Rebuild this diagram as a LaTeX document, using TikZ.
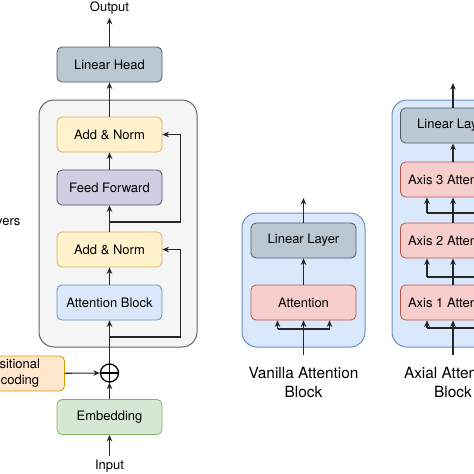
\documentclass[tikz,border=0pt]{standalone}
\usepackage{fontspec}
\setmainfont{TeX Gyre Heros}
\usetikzlibrary{arrows.meta}

\definecolor{headfill}{HTML}{BAC8D3}
\definecolor{headline}{HTML}{4A5B6C}
\definecolor{normfill}{HTML}{FFF2CC}
\definecolor{normline}{HTML}{D6B656}
\definecolor{fffill}{HTML}{D0CEE2}
\definecolor{ffline}{HTML}{56517E}
\definecolor{attfill}{HTML}{DAE8FC}
\definecolor{attline}{HTML}{6C8EBF}
\definecolor{embfill}{HTML}{D5E8D4}
\definecolor{embline}{HTML}{82B366}
\definecolor{posfill}{HTML}{FFE6CC}
\definecolor{posline}{HTML}{D79B00}
\definecolor{axfill}{HTML}{F8CECC}
\definecolor{axline}{HTML}{B85450}

\begin{document}
\begin{tikzpicture}[
    x=1pt,y=-1pt,
    >={Stealth[length=6.5pt,width=5.5pt]},
    every node/.style={font=\fontsize{13}{15}\selectfont},
    blk/.style={draw,rounded corners=5pt,minimum width=105pt,minimum height=35pt,
      inner sep=0pt,line width=0.8pt},
    frame/.style={draw,rounded corners=15pt,line width=1pt},
    arr/.style={->,line width=1.1pt,black!85},
    ln/.style={line width=1.1pt,black!85},
    lbl/.style={font=\fontsize{15.4}{19}\selectfont,align=center},
  ]
  \useasboundingbox (0,0) rectangle (474,474);
  \clip (0,0) rectangle (474,474);

  % -- containers --
  \node[frame,draw=black!60,fill=black!4,minimum width=158pt,minimum height=247pt]
       (enc) at (118,223.5) {};
  \node[frame,draw=attline,fill=attfill,minimum width=123pt,minimum height=134pt]
       (van) at (303.5,280) {};
  \node[frame,draw=attline,fill=attfill,minimum width=122pt,minimum height=247pt]
       (axl) at (453,223.5) {};

  % -- left column --
  \node (out) at (109.5,8) {Output};
  \node[blk,fill=headfill,draw=headline] (head) at (109.5,64.5) {Linear Head};
  \node[blk,fill=normfill,draw=normline] (addtop) at (109.5,134.5) {Add \& Norm};
  \node[blk,fill=fffill,draw=ffline] (ff) at (109.5,187.5) {Feed Forward};
  \node[blk,fill=normfill,draw=normline] (addbot) at (109.5,249.5) {Add \& Norm};
  \node[blk,fill=attfill,draw=attline] (attb) at (109.5,302.5) {Attention Block};
  \node[circle,draw,line width=1.3pt,minimum size=18pt,inner sep=0pt] (plus) at (109.5,373) {};
  \node[blk,fill=posfill,draw=posline,align=center,font=\fontsize{13}{16}\selectfont]
       (pos) at (12,373.5) {Positional\\Encoding};
  \node[blk,fill=embfill,draw=embline] (emb) at (109.5,417) {Embedding};
  \node (inp) at (109.5,466) {Input};
  \node[anchor=east] (nl) at (24,222) {Layers};

  \draw[line width=1.3pt] (plus.north) -- (plus.south) (plus.west) -- (plus.east);
  \draw[arr] (inp) -- (emb);
  \draw[arr] (emb) -- (plus);
  \draw[arr] (pos) -- (plus);
  \draw[arr] (plus) -- (attb);
  \draw[arr] (attb) -- (addbot);
  \draw[arr] (addbot) -- (ff);
  \draw[arr] (ff) -- (addtop);
  \draw[arr] (addtop) -- (head);
  \draw[arr] (head) -- (out);

  % -- residual paths --
  \coordinate (rbot) at (109.5,337);
  \coordinate (rtop) at (109.5,222);
  \draw[arr] (rbot) -| ([xshift=18pt]addbot.east) -- (addbot.east);
  \draw[arr] (rtop) -| ([xshift=18pt]addtop.east) -- (addtop.east);

  % -- vanilla attention block --
  \node[blk,fill=headfill,draw=headline] (vlin) at (303.5,240.5) {Linear Layer};
  \node[blk,fill=axfill,draw=axline] (vatt) at (303.5,302.5) {Attention};
  \coordinate (vin) at (303.5,355);
  \coordinate (vout) at (303.5,198);
  \draw[arr] (vin) -- (vatt);
  \draw[ln] (277.5,329) -- (329.5,329);
  \foreach \dx in {-26,26}
    \draw[arr] ([xshift=\dx pt]vatt.south |- 0,329) -- ([xshift=\dx pt]vatt.south);
  \draw[arr] (vatt) -- (vlin);
  \draw[arr] (vlin) -- (vout);
  \node[lbl] (vlab) at (303.5,382) {Vanilla Attention\\Block};

  % -- axial attention block --
  \node[blk,fill=headfill,draw=headline] (alin) at (453,125.5) {Linear Layer};
  \node[blk,fill=axfill,draw=axline] (ax3) at (453,179.5) {Axis 3 Attention};
  \node[blk,fill=axfill,draw=axline] (ax2) at (453,240.5) {Axis 2 Attention};
  \node[blk,fill=axfill,draw=axline] (ax1) at (453,302.5) {Axis 1 Attention};
  \coordinate (ain) at (453,355);
  \coordinate (aout) at (453,83);
  \draw[arr] (ain) -- (ax1);
  \draw[arr] (ax1) -- (ax2);
  \draw[arr] (ax2) -- (ax3);
  \draw[arr] (ax3) -- (alin);
  \draw[arr] (alin) -- (aout);
  \foreach \up/\yj in {ax1/328,ax2/277,ax3/213} {
    \draw[ln] (427,\yj) -- (479,\yj);
    \foreach \dx in {-26,26}
      \draw[arr] ([xshift=\dx pt]\up.south |- 0,\yj) -- ([xshift=\dx pt]\up.south);
  }
  \node[lbl] (alab) at (453,382) {Axial Attention\\Block};
\end{tikzpicture}
\end{document}
